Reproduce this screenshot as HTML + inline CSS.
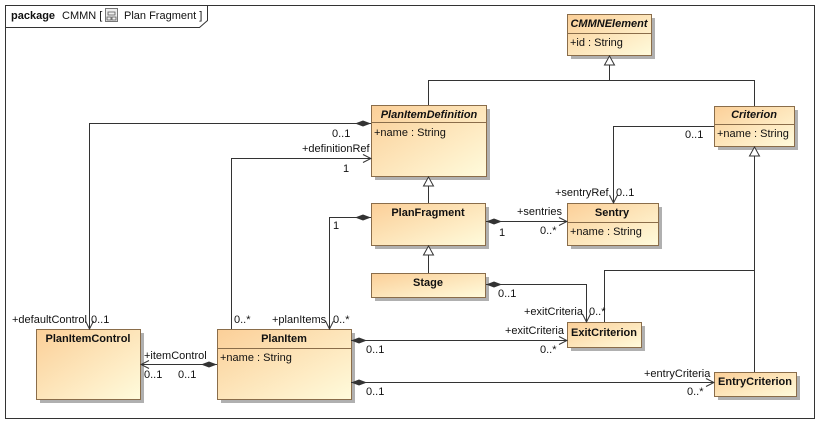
<!DOCTYPE html>
<html><head><meta charset="utf-8"><style>
html,body{margin:0;padding:0;background:#fff;}
svg{display:block;font-family:"Liberation Sans",Arial,sans-serif;}
.t{font-size:11px;fill:#111;}
.b{font-size:11px;font-weight:bold;fill:#111;}
.bi{font-size:11px;font-weight:bold;font-style:italic;fill:#111;}
.ln{stroke:#333;stroke-width:1;fill:none;}
.box{fill:url(#g);stroke:#8a6d4a;stroke-width:1;}
.sh{fill:#b0b0b0;}
</style></head><body>
<svg width="830" height="434" viewBox="0 0 830 434">
<defs>
<linearGradient id="g" x1="0" y1="0" x2="1" y2="1">
<stop offset="0" stop-color="#fbcf98"/><stop offset="1" stop-color="#fffbdc"/>
</linearGradient>
<marker id="dia" viewBox="0 0 16 8" markerWidth="16" markerHeight="8" refX="0" refY="4" orient="auto" markerUnits="userSpaceOnUse">
<path d="M0 4 L8 1 L16 4 L8 7 Z" fill="#333"/></marker>
<marker id="arr" viewBox="0 0 10 10" markerWidth="10" markerHeight="10" refX="9" refY="5" orient="auto" markerUnits="userSpaceOnUse">
<path d="M1 1 L9 5 L1 9" fill="none" stroke="#333"/></marker>
</defs>
<rect x="0" y="0" width="830" height="434" fill="#fff"/>
<!-- frame -->
<rect x="5.5" y="5.5" width="809" height="413" fill="none" stroke="#333"/>
<path d="M5.5 27.5 H199.5 L207.5 20.5 V5.5" class="ln"/>
<text x="11" y="19" class="b">package</text>
<text x="62" y="19" class="t">CMMN [</text>
<rect x="105.5" y="8.5" width="12" height="13" fill="#eee" stroke="#777"/>
<path d="M108 12h7v3h-7zM107 17h4v3h-4zM112 17h4v3h-4z" fill="none" stroke="#555" stroke-width="0.8"/>
<text x="124" y="19" class="t">Plan Fragment ]</text>

<!-- boxes with shadows -->
<g>
<rect class="sh" x="571" y="18" width="84" height="41"/><rect class="box" x="567.5" y="14.5" width="84" height="41"/>
<line x1="567.5" y1="33.5" x2="651.5" y2="33.5" stroke="#8a6d4a"/>
<text x="609" y="27" class="bi" text-anchor="middle">CMMNElement</text>
<text x="570" y="46" class="t">+id : String</text>

<rect class="sh" x="375" y="109" width="115" height="71"/><rect class="box" x="371.5" y="105.5" width="115" height="71"/>
<line x1="371.5" y1="122.5" x2="486.5" y2="122.5" stroke="#8a6d4a"/>
<text x="429" y="118" class="bi" text-anchor="middle">PlanItemDefinition</text>
<text x="374" y="136" class="t">+name : String</text>

<rect class="sh" x="718" y="110" width="80" height="40"/><rect class="box" x="714.5" y="106.5" width="80" height="40"/>
<line x1="714.5" y1="124.5" x2="794.5" y2="124.5" stroke="#8a6d4a"/>
<text x="754" y="118" class="bi" text-anchor="middle">Criterion</text>
<text x="717" y="137" class="t">+name : String</text>

<rect class="sh" x="375" y="207" width="114" height="42"/><rect class="box" x="371.5" y="203.5" width="114" height="42"/>
<text x="428" y="216" class="b" text-anchor="middle">PlanFragment</text>

<rect class="sh" x="571" y="207" width="91" height="42"/><rect class="box" x="567.5" y="203.5" width="91" height="42"/>
<line x1="567.5" y1="222.5" x2="658.5" y2="222.5" stroke="#8a6d4a"/>
<text x="612" y="216" class="b" text-anchor="middle">Sentry</text>
<text x="570" y="235" class="t">+name : String</text>

<rect class="sh" x="375" y="277" width="114" height="24"/><rect class="box" x="371.5" y="273.5" width="114" height="24"/>
<text x="428" y="286" class="b" text-anchor="middle">Stage</text>

<rect class="sh" x="571" y="326" width="74" height="25"/><rect class="box" x="567.5" y="322.5" width="74" height="25"/>
<text x="604" y="336" class="b" text-anchor="middle">ExitCriterion</text>

<rect class="sh" x="718" y="376" width="82" height="24"/><rect class="box" x="714.5" y="372.5" width="82" height="24"/>
<text x="755" y="385" class="b" text-anchor="middle">EntryCriterion</text>

<rect class="sh" x="40" y="333" width="104" height="70"/><rect class="box" x="36.5" y="329.5" width="104" height="70"/>
<text x="88" y="342" class="b" text-anchor="middle">PlanItemControl</text>

<rect class="sh" x="221" y="333" width="134" height="70"/><rect class="box" x="217.5" y="329.5" width="134" height="70"/>
<line x1="217.5" y1="348.5" x2="351.5" y2="348.5" stroke="#8a6d4a"/>
<text x="284" y="342" class="b" text-anchor="middle">PlanItem</text>
<text x="220" y="361" class="t">+name : String</text>
</g>

<!-- generalizations -->
<path d="M609.5 65 V80.5 M428.5 105 V80.5 H754.5 V106" class="ln"/>
<path d="M604.5 65 L609.5 56 L614.5 65 Z" fill="#fff" stroke="#333"/>
<path d="M428.5 186 V203" class="ln"/><path d="M423.5 186 L428.5 177 L433.5 186 Z" fill="#fff" stroke="#333"/>
<path d="M428.5 255 V273" class="ln"/><path d="M423.5 255 L428.5 246 L433.5 255 Z" fill="#fff" stroke="#333"/>
<path d="M754.5 156 V372 M604.5 322 V270.5 H754.5" class="ln"/>
<path d="M749.5 156 L754.5 147 L759.5 156 Z" fill="#fff" stroke="#333"/>

<!-- associations -->
<path d="M371 123.5 H89.5 V329" class="ln" marker-start="url(#dia)" marker-end="url(#arr)" />
<path d="M231.5 329 V158.5 H371" class="ln" marker-end="url(#arr)"/>
<path d="M371 217.5 H329.5 V329" class="ln" marker-start="url(#dia)" marker-end="url(#arr)"/>
<path d="M486 221.5 H567" class="ln" marker-start="url(#dia)" marker-end="url(#arr)"/>
<path d="M714 126.5 H613.5 V203" class="ln" marker-end="url(#arr)"/>
<path d="M486 284.5 H586.5 V322" class="ln" marker-start="url(#dia)" marker-end="url(#arr)"/>
<path d="M351 340.5 H567" class="ln" marker-start="url(#dia)" marker-end="url(#arr)"/>
<path d="M351 382.5 H714" class="ln" marker-start="url(#dia)" marker-end="url(#arr)"/>
<path d="M217 364.5 H141" class="ln" marker-start="url(#dia)" marker-end="url(#arr)"/>

<!-- labels -->
<g class="t">
<text x="332" y="137">0..1</text>
<text x="302" y="152">+definitionRef</text>
<text x="343" y="172">1</text>
<text x="12" y="323">+defaultControl</text>
<text x="91" y="323">0..1</text>
<text x="234" y="323">0..*</text>
<text x="272" y="323">+planItems</text>
<text x="333" y="323">0..*</text>
<text x="333" y="229">1</text>
<text x="517" y="215">+sentries</text>
<text x="499" y="236">1</text>
<text x="540" y="234">0..*</text>
<text x="685" y="138">0..1</text>
<text x="555" y="196">+sentryRef</text>
<text x="616" y="196">0..1</text>
<text x="498" y="297">0..1</text>
<text x="524" y="315">+exitCriteria</text>
<text x="589" y="315">0..*</text>
<text x="505" y="334">+exitCriteria</text>
<text x="540" y="353">0..*</text>
<text x="366" y="353">0..1</text>
<text x="644" y="377">+entryCriteria</text>
<text x="687" y="395">0..*</text>
<text x="366" y="395">0..1</text>
<text x="144" y="359">+itemControl</text>
<text x="144" y="378">0..1</text>
<text x="178" y="378">0..1</text>
</g>
</svg>
</body></html>
